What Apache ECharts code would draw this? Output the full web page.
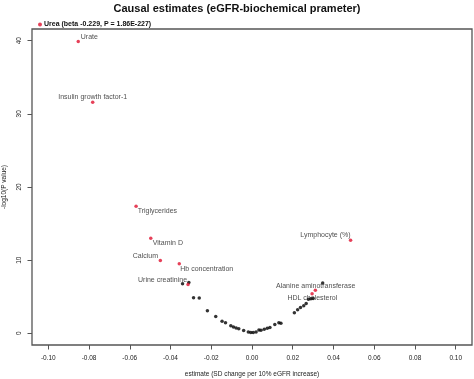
<!DOCTYPE html>
<html>
<head>
<meta charset="utf-8">
<script src="https://cdn.jsdelivr.net/npm/echarts@6/dist/echarts.min.js"></script>
<style>
html,body{margin:0;padding:0;background:#fff;}
#chart{width:474px;height:379px;}
</style>
</head>
<body>
<div id="chart"></div>
<script>
// Labelled (red) traits
var redNames = ["Urate","Insulin growth factor-1","Triglycerides","Vitamin D","Calcium","Hb concentration","Urine creatinine","Lymphocyte (%)","Alanine aminotransferase","HDL cholesterol"];
var redEstimate = [-0.0853,-0.0782,-0.0569,-0.0497,-0.0450,-0.0357,-0.0314,0.0484,0.0311,0.0295];
var redLogP = [39.9,31.6,17.37,13.0,9.96,9.51,6.68,12.73,5.87,5.42];

// Other (black) traits
var blackEstimate = [-0.0341,-0.0310,-0.0287,-0.0259,-0.0219,-0.0178,-0.0147,-0.0130,-0.0104,-0.0091,-0.0078,-0.0065,-0.0041,-0.0018,-0.0006,0.0006,0.0020,0.0034,0.0044,0.0060,0.0075,0.0088,0.0112,0.0132,0.0142,0.0208,0.0224,0.0238,0.0254,0.0266,0.0277,0.0289,0.0300,0.0347];
var blackLogP = [6.78,6.96,4.87,4.82,3.07,2.28,1.64,1.43,1.02,0.86,0.72,0.61,0.37,0.18,0.10,0.10,0.18,0.45,0.41,0.55,0.68,0.78,1.19,1.43,1.36,2.82,3.21,3.51,3.75,4.09,4.64,4.73,4.77,6.89];

var xTicks = [-0.10,-0.08,-0.06,-0.04,-0.02,0.00,0.02,0.04,0.06,0.08,0.10];
var yTicks = [0,10,20,30,40];

var titleText = "Causal estimates (eGFR-biochemical prameter)";
var legendText = "Urea (beta -0.229, P = 1.86E-227)";
var xName = "estimate (SD change per 10% eGFR increase)";
var yName = "-log10(P value)";

// label placement (style)
var labelStyle = {
  "Urate": {align:"left", offset:[2.5,-4]},
  "Insulin growth factor-1": {align:"center", offset:[0,-4.6]},
  "Triglycerides": {align:"left", offset:[1.6,5]},
  "Vitamin D": {align:"left", offset:[2,4.6]},
  "Calcium": {align:"right", offset:[-2.3,-4]},
  "Hb concentration": {align:"left", offset:[1,5]},
  "Urine creatinine": {align:"right", offset:[-1,-4.3]},
  "Lymphocyte (%)": {align:"right", offset:[0,-4.7]},
  "Alanine aminotransferase": {align:"center", offset:[0.3,-4]},
  "HDL cholesterol": {align:"center", offset:[0.2,4.4]}
};

var RED = "#e0102e";
var FONT = "Liberation Sans, Arial, Helvetica, sans-serif";

var redData = redNames.map(function(n,i){
  var s = labelStyle[n];
  return {name:n, value:[redEstimate[i], redLogP[i]],
    label:{show:true, position:"inside", align:s.align, verticalAlign:"middle", offset:s.offset}};
});
var blackData = blackEstimate.map(function(x,i){ return [x, blackLogP[i]]; });

var chart = echarts.init(document.getElementById('chart'), null, {renderer:'canvas'});
chart.setOption({
  animation:false,
  backgroundColor:"#fff",
  title:{text:titleText, left:"center", top:-2,
    textStyle:{fontFamily:FONT, fontSize:11, fontWeight:"bold", color:"#111"}},
  legend:{data:[legendText], left:33, top:16, icon:"circle", itemWidth:4, itemHeight:4,
    textStyle:{fontFamily:FONT, fontSize:7, fontWeight:"bold", color:"#111", padding:[0,0,0,-3]}},
  grid:{left:32, right:2, top:29, bottom:34, show:true, borderColor:"#555", borderWidth:1.3,
    backgroundColor:"transparent", containLabel:false, outerBoundsMode:"none"},
  xAxis:{type:"value", min:-0.108, max:0.108,
    name:xName, nameLocation:"middle", nameGap:26,
    nameTextStyle:{fontFamily:FONT, fontSize:6.5, color:"#222"},
    axisLine:{show:false, onZero:false}, splitLine:{show:false},
    axisTick:{show:true, customValues:xTicks, length:4.5, lineStyle:{color:"#555"}},
    axisLabel:{customValues:xTicks, margin:10, fontFamily:FONT, fontSize:6.5, color:"#222",
      formatter:function(v){return v.toFixed(2);}}},
  yAxis:{type:"value", min:-1.6, max:41.6,
    name:yName, nameLocation:"middle", nameGap:23, nameRotate:90,
    nameTextStyle:{fontFamily:FONT, fontSize:6.5, color:"#222"},
    axisLine:{show:false, onZero:false}, splitLine:{show:false},
    axisTick:{show:true, customValues:yTicks, length:4.5, lineStyle:{color:"#555"}},
    axisLabel:{customValues:yTicks, rotate:90, margin:9, fontFamily:FONT, fontSize:6.5, color:"#222"}},
  series:[
    {type:"scatter", name:"other", data:blackData, symbolSize:3.5,
      itemStyle:{color:"#000"}, silent:true},
    {type:"scatter", name:legendText, data:redData, symbolSize:3.5,
      itemStyle:{color:RED},
      label:{formatter:"{b}", fontFamily:FONT, fontSize:7, color:"#222"}, silent:true}
  ]
});
</script>
</body>
</html>
